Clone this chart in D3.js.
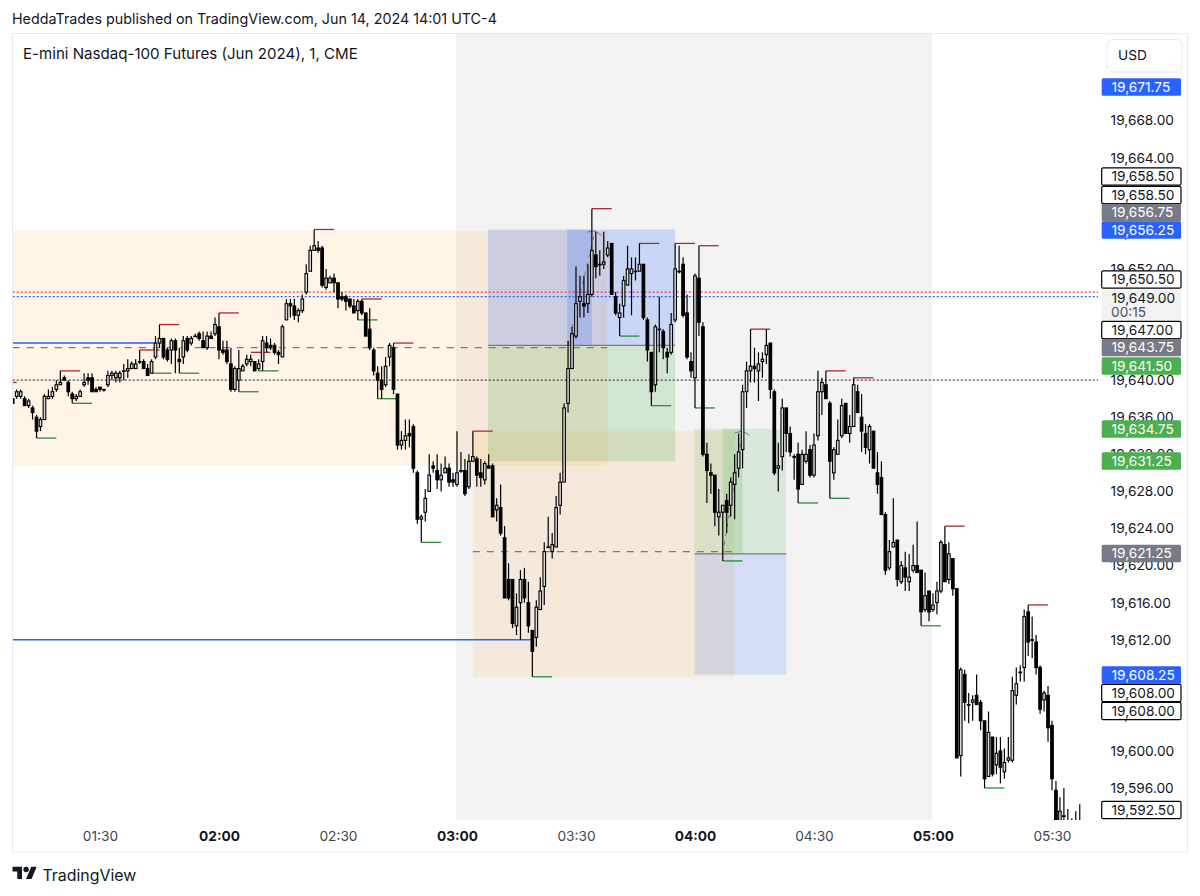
<!DOCTYPE html>
<html>
<head>
<meta charset="utf-8">
<style>
  html, body { margin: 0; padding: 0; background: #fff; }
  svg { display: block; font-family: Inter, "Noto Sans", sans-serif; }
</style>
<script src="https://cdn.jsdelivr.net/npm/d3@7"></script>
</head>
<body>
<svg id="chart" width="1200" height="896"></svg>
<script>
// one bar per minute, bar 0 is 01:30, first bar on the picture is bar -22
const firstBar = -22;
const opens = [
  19638,19638.25,19638.25,19638,19637.25,19637,19636,19635,19635.75,19638,
  19638.25,19639,19639.5,19640.25,19639.75,19638.5,19638,19638.25,19639.5,19640.25,
  19640.25,19639,19639.25,19639,19639.5,19640.5,19640.25,19640.25,19641,19641,
  19641.25,19641.25,19642,19642,19641.25,19640.75,19642.5,19644,19644.5,19643.25,
  19643.25,19644.25,19642.25,19642.5,19644.5,19644,19644.75,19645,19644.25,19643.5,
  19644.75,19645,19645.75,19643.25,19643.25,19641.75,19639,19640,19641,19641.75,
  19642,19642,19641.25,19642,19644,19643.75,19643.75,19643,19642.5,19646.5,
  19648.25,19648,19647,19647.5,19649.5,19651.75,19654,19654.25,19654.25,19650,
  19650.5,19651,19650.5,19649,19649,19648.75,19648,19647.5,19648.5,19647.25,
  19645.5,19643.25,19640.75,19640,19639.5,19642.5,19643.5,19638.5,19633,19633.5,
  19634.25,19635,19630,19625,19625.75,19628,19630.75,19630.25,19629.25,19630,
  19630.5,19629.25,19628.75,19630.25,19630.25,19628.5,19631.25,19631.5,19630,19629.25,
  19630.75,19630.75,19626,19626.25,19623,19618.5,19618.5,19613.5,19616,19618.5,
  19616,19613,19612.25,19615.25,19617.75,19622,19621.5,19622,19626.5,19629,
  19637.5,19641.25,19644.75,19648.5,19648.25,19648.25,19649.25,19653.5,19652.5,19652.5,
  19653.5,19654.75,19649,19646.75,19648,19650.25,19651.5,19651.75,19651.75,19652.5,
  19646.5,19643,19639.5,19645.5,19645.25,19643,19643,19646.5,19651.75,19652.5,
  19647.25,19642,19640.25,19651,19645.75,19632,19630,19629.75,19625.25,19625.75,
  19627,19626.5,19628.75,19630.5,19632.5,19638.75,19641,19641.5,19641,19642,
  19642.75,19644,19638.75,19630.5,19631.75,19637,19634.25,19631.75,19632,19628.75,
  19631.25,19632.5,19629.75,19634,19638.75,19639.5,19637.5,19630,19632,19634,
  19637.5,19634.25,19635,19638.75,19636,19634.25,19632.5,19634.5,19630,19629.5,
  19625.5,19619.75,19622,19622.75,19618.25,19619.75,19618.25,19619.5,19620,19619.5,
  19615.25,19617.25,19615.25,19616,19617.25,19622.25,19618.5,19620.75,19617.5,19599.5,
  19608.25,19605,19605.25,19606,19605.25,19603.25,19597.25,19601.5,19598.5,19600,
  19597.75,19599,19599,19606,19608.5,19609,19615,19612,19611.75,19609,
  19605.5,19606,19602.75,19595.75,19592.5,19593,19591.5,19592,19591.5,19591.5
];
const highs = [
  19638,19639,19639,19638.25,19638,19637.25,19636.25,19636,19638.5,19639,
  19639.25,19640,19641,19640.5,19640,19638.75,19638.5,19639,19640.75,19640.75,
  19640.75,19639.25,19639.25,19639,19641,19641,19641,19641,19641.75,19642.25,
  19642,19642.25,19643.25,19642.25,19641.75,19642.25,19644.75,19646,19644.5,19643.5,
  19644.5,19644.5,19643.5,19644.75,19644.75,19644.75,19645,19645.25,19645.25,19645.25,
  19645.25,19646.75,19647.25,19644.25,19644.25,19643.5,19641.5,19643.25,19641.75,19642.75,
  19642.75,19642,19642.25,19644.75,19644.75,19644.5,19644,19643.25,19646,19648.75,
  19648.75,19648.75,19647.75,19649.25,19652.5,19654.5,19656.25,19655,19654.5,19652,
  19651.25,19651.5,19650.5,19649.5,19649.25,19648.75,19648.75,19648.75,19648.75,19647.25,
  19647.75,19643.5,19641.5,19641.5,19642.5,19644,19644,19638.5,19634.5,19635.75,
  19635.75,19635.25,19630.25,19625.5,19628.25,19632,19631.25,19632,19631,19631.75,
  19631,19630,19634.5,19632.25,19631.5,19632,19634.5,19631.75,19631.5,19631.25,
  19632,19631,19627.25,19628.75,19624.25,19620.25,19618.5,19617,19619.5,19619.75,
  19618.25,19613,19616.25,19618.75,19622.5,19625.25,19623.5,19627.5,19630,19637.5,
  19644.25,19645.75,19652.25,19651.25,19651.25,19652.5,19658.5,19656,19654,19656,
  19655,19654.75,19649.5,19648.25,19651.25,19654.5,19653.25,19653.25,19654.75,19652.5,
  19646.75,19643,19646,19649,19645.5,19643.5,19647.25,19654.75,19654.5,19653.25,
  19649.25,19643,19651.5,19654.5,19646.25,19633.25,19631,19629.75,19628.25,19626.5,
  19627.75,19629.5,19632,19634.25,19639.5,19642,19645.5,19643.5,19643,19643,
  19645.5,19644,19639,19633.25,19638,19637,19635,19632,19633.25,19632.5,
  19634.5,19633,19634.25,19641,19640.25,19641,19637.75,19632.75,19635.75,19638,
  19637.5,19636.25,19640.25,19639.5,19638.5,19635.25,19635.25,19634.5,19632.25,19631.25,
  19625.75,19622.75,19627.25,19622.75,19620.5,19621.5,19621.25,19622.25,19624.75,19619.5,
  19619.25,19617.25,19617,19618.25,19622.75,19624.25,19622.5,19620.75,19617.5,19609,
  19608.75,19606.25,19606,19608.25,19605.5,19603.25,19604.25,19601.5,19601.5,19601.5,
  19600.25,19601.5,19608,19609,19609.25,19615.25,19615.75,19614.5,19612.5,19609.25,
  19606.5,19607,19603.25,19596.75,19595,19596,19593.75,19592.75,19593.5,19594.25
];
const lows = [
  19637.5,19638,19638,19637.25,19637,19635.75,19633.75,19634.5,19635.75,19638,
  19638,19638.75,19639.5,19640,19638.25,19637.5,19637.75,19638.25,19639.25,19639.5,
  19638.75,19638.75,19638.75,19638.75,19639.25,19640,19639.75,19639.75,19640,19640.25,
  19641.25,19641.25,19641.75,19641.25,19640.5,19640.75,19642.25,19643.5,19642.25,19642,
  19641.75,19640.75,19640.75,19641.75,19643,19643.75,19644.75,19644.25,19643.5,19643.25,
  19644.5,19644.75,19642.25,19642.75,19641.75,19638.75,19638.75,19638.75,19641,19641.5,
  19641.5,19641,19641,19641,19643,19643.25,19642.75,19641.75,19642.5,19646.5,
  19646.75,19646.5,19646.25,19647.25,19649.25,19651.75,19654,19653.75,19650,19649.75,
  19650.5,19649.5,19647.75,19648.5,19647.5,19647.75,19647.25,19646.5,19647,19644.75,
  19643.25,19640.5,19638,19638,19639.25,19641.5,19638.5,19632.5,19632.5,19632.5,
  19632.75,19630,19624.5,19622.5,19624.75,19628,19630,19628.25,19628,19630,
  19628.5,19628.5,19628.5,19630,19627.5,19628.25,19631.25,19628.5,19628.5,19628.75,
  19630.5,19625.25,19624.75,19623.25,19616.5,19616.25,19613.25,19612.5,19612,19616,
  19612.75,19608,19611.25,19615.25,19615.75,19622,19620.75,19622,19625.5,19629,
  19636.5,19641.25,19644.5,19646.75,19646.75,19647.25,19649,19651,19651.25,19652,
  19653.25,19649.25,19647,19644.75,19646.75,19650.25,19647,19650.75,19651.75,19646.5,
  19642,19637.25,19638.75,19643,19642.25,19640.75,19642.75,19646.25,19651.5,19646.75,
  19642.25,19640.25,19637,19644.75,19631.75,19626.75,19627.75,19624.25,19623.25,19620.5,
  19623.5,19625.25,19625,19629.5,19630.5,19637,19639.75,19639.75,19637.75,19640.25,
  19641.75,19638,19629.75,19628,19630.25,19632.25,19631.75,19629.25,19626.75,19628.75,
  19631,19629.5,19629.5,19633.5,19636.25,19638,19627.25,19629.25,19632,19633.75,
  19634.25,19633.25,19635,19636.5,19632.25,19632,19631,19630.5,19627.75,19625.5,
  19619,19619.5,19622,19617.75,19618,19617.25,19617.25,19619.25,19619.25,19613.5,
  19615,19614,19615,19614.75,19617,19618.25,19618,19616.75,19599.25,19597.25,
  19603.25,19603,19603.25,19605,19602.25,19596,19597.25,19597.25,19597.5,19596.5,
  19597,19598.75,19598.75,19605,19607.5,19607.5,19610.25,19610,19608.25,19604,
  19604.25,19601,19595.75,19592,19592,19592.5,19591,19591.5,19591,19591
];
const closes = [
  19637.5,19638.75,19638.75,19637.25,19637.75,19636.5,19634.5,19635.75,19638.25,19638.25,
  19638.75,19639.5,19639.75,19640,19638.75,19638,19638.25,19638.75,19639.75,19640,
  19638.75,19638.75,19639,19639,19640.5,19640.75,19640.75,19640.75,19641,19641.25,
  19641.75,19641.75,19642,19641.25,19640.5,19642,19644,19644.5,19642.5,19642.25,
  19644.25,19643.25,19642,19644.25,19643.25,19644.5,19644.75,19644.5,19643.5,19644.75,
  19644.5,19646,19643.25,19643,19642,19639,19641.25,19641.25,19641.5,19642.25,
  19642.25,19641,19641.75,19644.25,19643.5,19643.5,19643,19642.75,19645.75,19648.25,
  19648,19647,19647.5,19648.75,19651.5,19654,19654.5,19654,19650.25,19651,
  19651,19650.5,19648.75,19648.75,19648.5,19648,19647.25,19648.5,19647.25,19644.75,
  19643.5,19641,19640,19639,19641.5,19643.75,19639,19633,19633.5,19634,
  19634,19630.5,19625,19625.25,19627.25,19629.75,19630.5,19629.25,19629.75,19630.5,
  19629,19629,19630,19630.25,19627.75,19631.25,19631.75,19629.75,19629.5,19631,
  19630.5,19625.25,19626.5,19623.5,19616.5,19616.5,19613.75,19615.5,19618.5,19616.5,
  19613.5,19610.75,19615.5,19617.25,19621.5,19622,19622.25,19626.25,19629,19637,
  19641.25,19645,19648.25,19649,19648,19649.25,19654,19652.25,19652.5,19652.75,
  19654.25,19649.25,19647.25,19647.25,19650.75,19652,19652,19651.75,19652.5,19646.75,
  19643.25,19638.75,19645.75,19645.5,19643.5,19642.5,19646,19652,19651.75,19647,
  19642.5,19641,19651.25,19646.25,19632,19630.25,19629.75,19625.75,19625.75,19626.5,
  19625.75,19629,19630,19632.25,19638.75,19641,19641.5,19641.25,19641.75,19642.25,
  19643.75,19639,19630,19630.75,19637,19634.25,19632.25,19631.75,19628.25,19632,
  19632,19629.75,19633,19638.75,19639.75,19638,19631.25,19632.5,19633.5,19637.25,
  19634.25,19635,19639.5,19636.5,19634.5,19632.75,19635,19630.5,19628.75,19625.5,
  19619.5,19621.5,19622.5,19618.5,19620,19618.75,19618.75,19620,19619.25,19615,
  19616.75,19615,19615.75,19617.25,19622.5,19618.25,19621.25,19617.5,19599.25,19608.75,
  19605.25,19605,19605.5,19605,19603.25,19597,19602,19597.5,19599.75,19598.25,
  19598.75,19599.25,19606.5,19607.25,19608.5,19614.5,19611.75,19612,19609,19604.5,
  19606.25,19602.5,19597,19592.5,19593.5,19593,19591.25,19591.75,19591.25,19592.25
];

const swingHighBars = [-26,-10,10,15,30,38,54,66,74,94,124,136,145,151,164,183,190,213,234];
const swingHighPrices = [19639.75,19641,19643.25,19646,19647.25,19643,19656.25,19648.75,19644,19634.5,19658.5,19654.75,19654.75,19654.5,19645.5,19641,19640.25,19624.25,19615.75];
const swingLowBars = [-16,-7,13,20,35,40,65,70,81,109,131,139,150,157,176,184,207,223];
const swingLowPrices = [19633.75,19637.5,19640.75,19640.75,19638.75,19641,19646.5,19638,19622.5,19608,19644.75,19637.25,19637,19620.5,19626.75,19627.25,19613.5,19596];

const timeTickBars = [0,30,60,90,120,150,180,210,240];
const timeTickLabels = ["01:30","02:00","02:30","03:00","03:30","04:00","04:30","05:00","05:30"];
const priceTicks = d3.range(19596, 19669, 4);

const tagPrices = [19671.75,19658.5,19658.5,19656.75,19656.25,19650.5,19649,19647,19643.75,19641.5,19634.75,19631.25,19621.25,19608.25,19608,19608,19592.5];
const tagKinds = ["blue","box","box","gray","blue","box","last","box","gray","green","green","green","gray","blue","box","box","box"];
const tagCentres = [87,176.5,195,212.5,230,279.5,298,330,347.5,366,429,461,553.5,675,693,711,810];

const width = 1200, height = 896;
const pane = { left: 13, right: 1098, top: 34, bottom: 820 };
const outer = { right: 1187.5, bottom: 852 };
const axisFont = 13.7;

const x = d3.scaleLinear().domain([-21.93, 251.6]).range([pane.left, pane.right]);
const y = d3.scaleLinear().domain([19592.55, 19677.34]).range([pane.bottom, pane.top]);

const svg = d3.select("#chart");
const ink = "#131722";

svg.append("rect").attr("x", 12.5).attr("y", pane.top - 0.5)
  .attr("width", outer.right - 12.5).attr("height", outer.bottom - pane.top + 0.5)
  .attr("fill", "#fff").attr("stroke", "#e8eaf0");

svg.append("defs").append("clipPath").attr("id", "pane-clip").append("rect")
  .attr("x", pane.left).attr("y", pane.top)
  .attr("width", pane.right - pane.left).attr("height", pane.bottom - pane.top);

const plot = svg.append("g").attr("clip-path", "url(#pane-clip)");

function box(x0, x1, p0, p1, fill) {
  plot.append("rect")
    .attr("x", x(x0)).attr("width", x(x1) - x(x0))
    .attr("y", y(p0)).attr("height", y(p1) - y(p0))
    .attr("fill", fill);
}
function level(x0, x1, p, color, dash, w) {
  plot.append("line")
    .attr("x1", x(x0)).attr("x2", x(x1))
    .attr("y1", y(p)).attr("y2", y(p))
    .attr("stroke", color).attr("stroke-width", w || 1)
    .attr("stroke-dasharray", dash || null);
}

// session and zones
plot.append("rect").attr("x", x(89.8)).attr("width", x(209.7) - x(89.8))
  .attr("y", pane.top).attr("height", pane.bottom - pane.top).attr("fill", "#f3f3f3");

const orange = "rgba(255,152,0,0.1)", blue = "rgba(41,98,255,0.2)", green = "rgba(76,175,80,0.2)";
box(-22, 127.9, 19656.1, 19630.75, orange);
box(94, 160, 19634.5, 19608, orange);
box(97.8, 145, 19656.25, 19643.75, blue);
box(97.8, 145, 19643.75, 19631.25, green);
box(117.8, 124, 19656.25, 19643.75, blue);
box(149.9, 173, 19634.75, 19621.25, "rgba(76,175,80,0.15)");
box(149.9, 173, 19621.25, 19608.25, "rgba(41,98,255,0.15)");
box(157, 162, 19634.75, 19621.25, green);

level(97.8, 145, 19643.75, "#787b86", null, 1.2);
level(149.9, 173, 19621.25, "#787b86", null, 1.2);
level(-22, 127.9, 19643.5, "#787b86", "7 7", 1.3);
level(94, 160, 19621.5, "#787b86", "7 7", 1.3);
level(-22, 252, 19649.5, "#f23645", "2 2", 1.2);
level(-22, 252, 19649, "#2962ff", "2 2", 1.2);
level(-22, 252, 19640, "#444", "2 2", 1.2);
level(-22, 14, 19644, "#2962ff", null, 1.5);
level(-22, 109, 19612, "#2962ff", null, 1.4);

// dashed trade arrows
const arrowFrom = [[118, 19643.75], [157, 19621.25]];
const arrowTo = [[124.8, 19656.1], [162, 19634.5]];
arrowFrom.forEach((from, i) => {
  const [x0, y0] = [x(from[0]), y(from[1])];
  const [x1, y1] = [x(arrowTo[i][0]), y(arrowTo[i][1])];
  const a = Math.atan2(y1 - y0, x1 - x0);
  plot.append("line").attr("x1", x0).attr("y1", y0).attr("x2", x1).attr("y2", y1)
    .attr("stroke", "#787b86").attr("stroke-dasharray", "4 5");
  [-0.6, 0.6].forEach(t => {
    plot.append("line").attr("x1", x1).attr("y1", y1)
      .attr("x2", x1 - 8 * Math.cos(a + t * 2)).attr("y2", y1 - 8 * Math.sin(a + t * 2))
      .attr("stroke", "#787b86");
  });
});

// swing markers
swingHighBars.forEach((b, i) => level(b, b + 5, swingHighPrices[i], "#b22833", null, 1.3));
swingLowBars.forEach((b, i) => level(b, b + 5, swingLowPrices[i], "#2e8b3e", null, 1.3));

// candles
const candles = plot.append("g");
opens.forEach((open, i) => {
  const bar = firstBar + i;
  const cx = x(bar);
  const up = closes[i] > open;
  candles.append("line").attr("x1", cx).attr("x2", cx)
    .attr("y1", y(highs[i])).attr("y2", y(lows[i]))
    .attr("stroke", "#000").attr("stroke-width", 1.2);
  const top = y(Math.max(open, closes[i]));
  const bottom = y(Math.min(open, closes[i]));
  candles.append("rect")
    .attr("x", cx - 1.3).attr("width", 2.6)
    .attr("y", top).attr("height", Math.max(bottom - top, 0.6))
    .attr("fill", up ? "#dcdcdc" : "#000")
    .attr("stroke", "#000").attr("stroke-width", 1.1);
});

// axes
const priceAxis = svg.append("g").attr("transform", `translate(${pane.right},0)`)
  .call(d3.axisRight(y).tickValues(priceTicks).tickSize(0).tickPadding(12.6).tickFormat(d3.format(",.2f")));
priceAxis.select(".domain").remove();
priceAxis.selectAll("text").attr("font-size", axisFont).attr("font-family", "Inter").attr("fill", ink);

const timeAxis = svg.append("g").attr("transform", `translate(0,${pane.bottom})`)
  .call(d3.axisBottom(x).tickValues(timeTickBars).tickSize(0).tickPadding(11)
    .tickFormat((d, i) => timeTickLabels[i]));
timeAxis.select(".domain").remove();
timeAxis.selectAll("text").attr("font-size", axisFont).attr("font-family", "Inter")
  .attr("font-weight", d => timeTickLabels[timeTickBars.indexOf(d)].endsWith(":00") ? 700 : 400)
  .attr("fill", d => timeTickLabels[timeTickBars.indexOf(d)].endsWith(":00") ? ink : "#434651");

// price tags
const tagFill = { blue: "#2962ff", gray: "#787b86", green: "#4caf50", box: "#fff", last: "#f2f2f2" };
tagPrices.forEach((p, i) => {
  const kind = tagKinds[i], cy = tagCentres[i];
  const light = kind === "blue" || kind === "gray" || kind === "green";
  const tall = kind === "last";
  const g = svg.append("g");
  g.append("rect").attr("x", 1101.7).attr("y", cy - 8.7)
    .attr("width", 79.3).attr("height", tall ? 31 : 17.4).attr("rx", tall ? 0 : 1.5)
    .attr("fill", tagFill[kind])
    .attr("stroke", kind === "box" ? "#000" : "none").attr("stroke-width", 1.2);
  g.append("text").attr("x", 1111.5).attr("y", cy).attr("dy", "0.35em")
    .attr("font-size", axisFont).attr("fill", light ? "#fff" : ink)
    .text(d3.format(",.2f")(p));
  if (tall) {
    g.append("text").attr("x", 1111).attr("y", cy + 14.5).attr("dy", "0.35em")
      .attr("font-size", axisFont).attr("fill", "#50535e").text("00:15");
  }
});

// header, currency button, footer
svg.append("text").attr("x", 12).attr("y", 24).attr("font-size", 14.3).attr("fill", ink)
  .text("HeddaTrades published on TradingView.com, Jun 14, 2024 14:01 UTC-4");
svg.append("text").attr("x", 23).attr("y", 59).attr("font-size", 15.1).attr("fill", ink)
  .text("E-mini Nasdaq-100 Futures (Jun 2024), 1, CME");

svg.append("rect").attr("x", 1107).attr("y", 39.5).attr("width", 75).attr("height", 32.5).attr("rx", 6)
  .attr("fill", "#fff").attr("stroke", "#e8eaf0");
svg.append("text").attr("x", 1118).attr("y", 55.5).attr("dy", "0.35em").attr("font-size", axisFont).attr("fill", ink).text("USD");

const logo = svg.append("g").attr("transform", "translate(12.5,864) scale(0.68)").attr("fill", ink);
logo.append("path").attr("d", "M14 22H7V11H0V4h14v18zM28 22h-8l7.5-18h8L28 22z");
logo.append("circle").attr("cx", 20).attr("cy", 8).attr("r", 4);
svg.append("text").attr("x", 42.5).attr("y", 881).attr("font-size", 15.9).attr("fill", ink).text("TradingView");
</script>
</body>
</html>
